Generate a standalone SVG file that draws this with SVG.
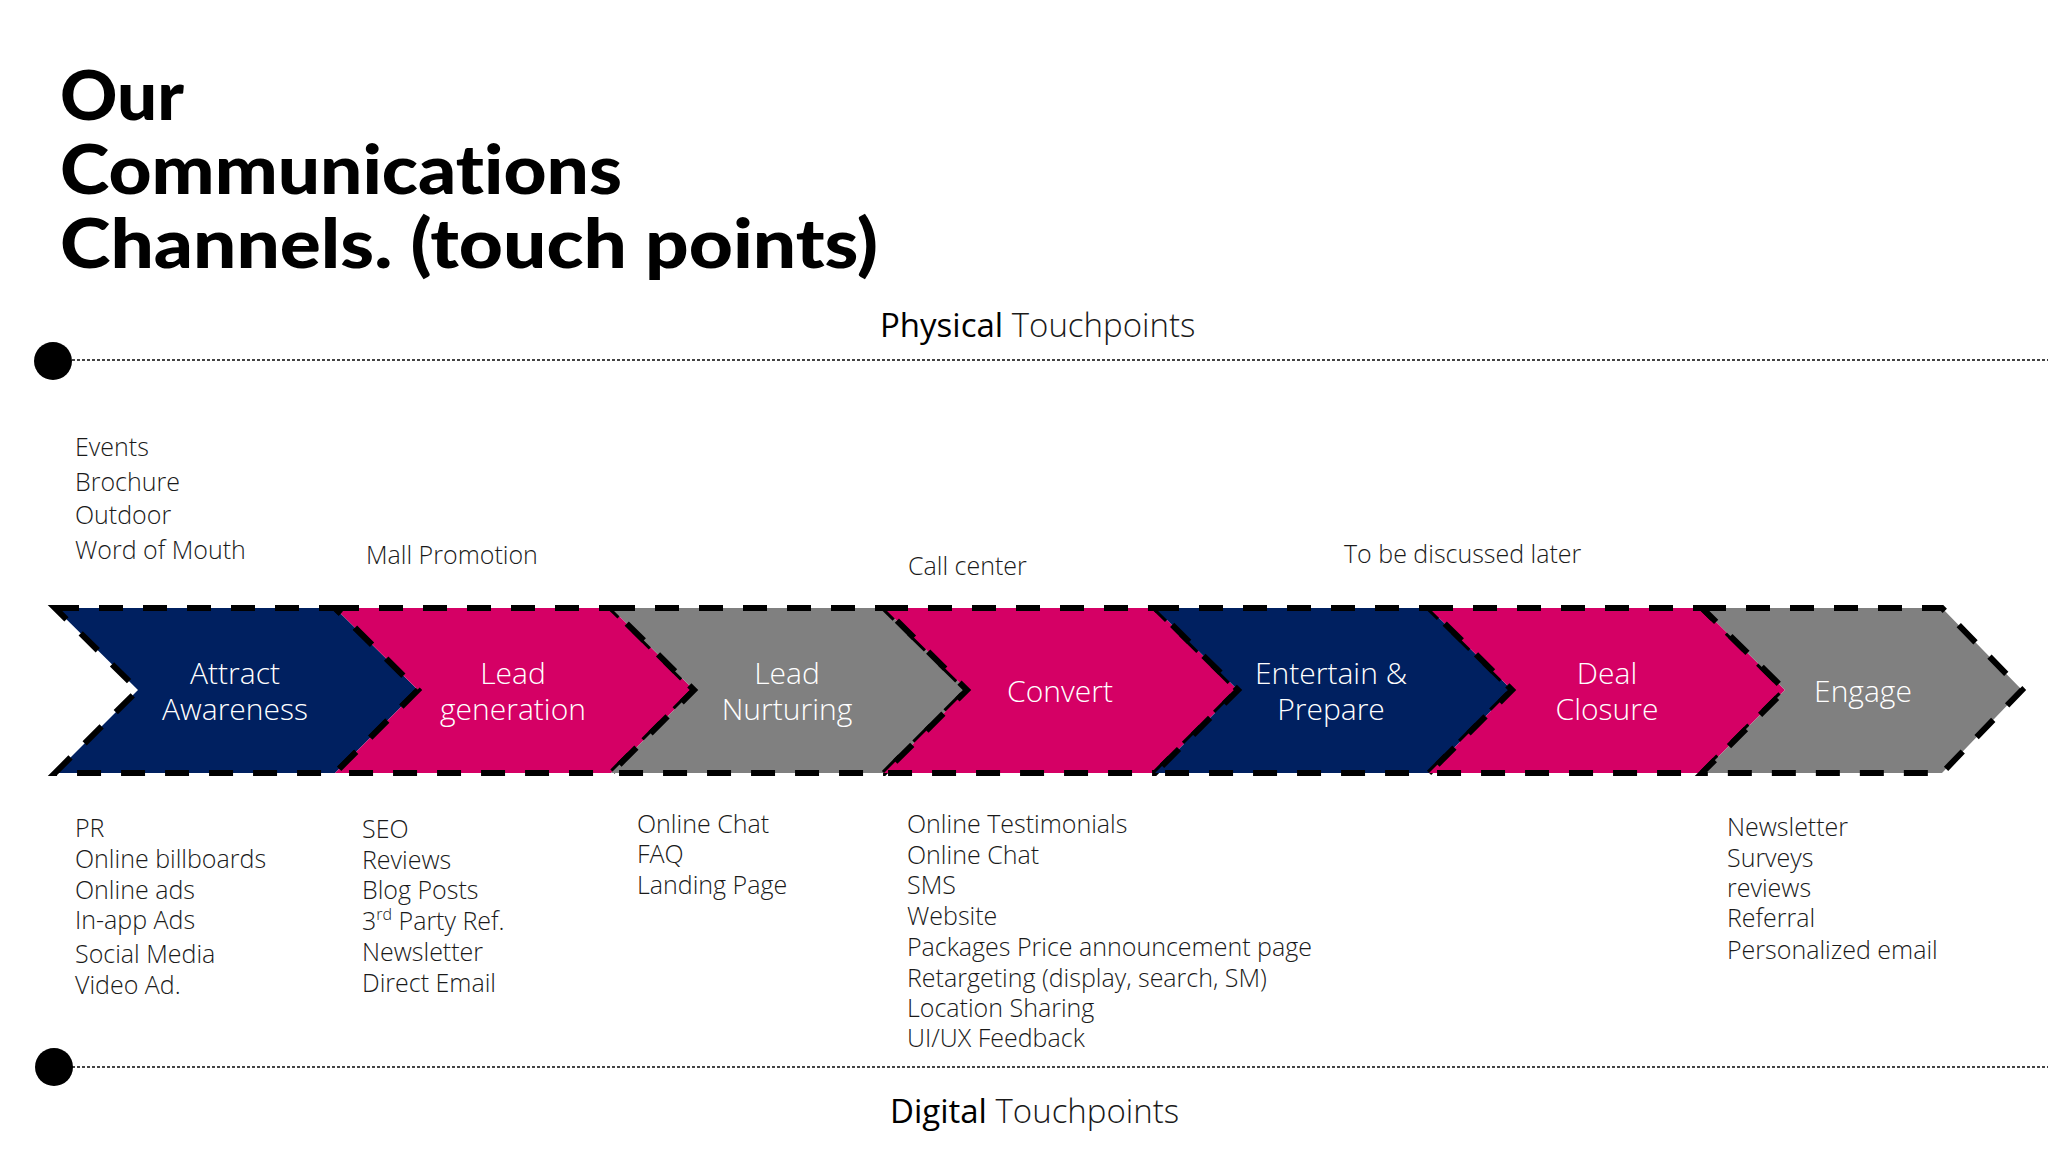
<svg xmlns="http://www.w3.org/2000/svg" width="2048" height="1152" viewBox="0 0 2048 1152">
<style>
.title{font-family:Lato,"Liberation Sans",sans-serif;font-weight:900;font-size:69px;fill:#000;font-variant-ligatures:none}
.lt{font-family:"Open Sans","Liberation Sans",sans-serif;font-weight:300;font-size:25px;fill:#1a1a1a}
.hd{font-family:"Open Sans","Liberation Sans",sans-serif;font-weight:300;font-size:33px;fill:#1a1a1a}
.hdb{font-weight:400;fill:#000}
.cl{font-family:"Open Sans","Liberation Sans",sans-serif;font-weight:300;font-size:30px;fill:#fff;text-anchor:middle}
.chev{stroke:#000;stroke-width:6;stroke-dasharray:24 20;stroke-linejoin:miter}
.dot{stroke:#444;stroke-width:2;stroke-dasharray:3 2;fill:none}
</style>
<rect width="2048" height="1152" fill="#fff"/>
<g id="title">
<text class="title" x="60" y="120" textLength="124" lengthAdjust="spacingAndGlyphs">Our</text>
<text class="title" x="60" y="194" textLength="562" lengthAdjust="spacingAndGlyphs">Communications</text>
<text class="title" x="60" y="268" textLength="818" lengthAdjust="spacingAndGlyphs">Channels. (touch points)</text>
</g>
<g id="connectors">
<line class="dot" x1="72" y1="360" x2="2048" y2="360"/>
<circle cx="53" cy="361" r="19" fill="#000"/>
<line class="dot" x1="72" y1="1067" x2="2048" y2="1067"/>
<circle cx="54" cy="1067" r="19" fill="#000"/>
</g>
<g id="physical-label"><text class="hd" x="880" y="337"><tspan class="hdb">Physical</tspan> Touchpoints</text></g>
<g id="digital-label"><text class="hd" x="890" y="1123"><tspan class="hdb">Digital</tspan> Touchpoints</text></g>
<g id="chev-attract">
<polygon class="chev" fill="#002060" points="55,608 335,608 418,690 335,773 55,773 138,690"/>
<text class="cl" y="684"><tspan x="235">Attract</tspan><tspan x="235" dy="36">Awareness</tspan></text>
</g>
<g id="chev-leadgen">
<polygon class="chev" fill="#D50065" points="335,608 611,608 694,690 611,773 335,773 418,690"/>
<text class="cl" y="684"><tspan x="513">Lead</tspan><tspan x="513" dy="36">generation</tspan></text>
</g>
<g id="chev-nurture">
<polygon class="chev" fill="#808080" points="611,608 884,608 967,690 884,773 611,773 694,690"/>
<text class="cl" y="684"><tspan x="787">Lead</tspan><tspan x="787" dy="36">Nurturing</tspan></text>
</g>
<g id="chev-convert">
<polygon class="chev" fill="#D50065" points="884,608 1155,608 1238,690 1155,773 884,773 967,690"/>
<text class="cl" x="1060" y="702">Convert</text>
</g>
<g id="chev-entertain">
<polygon class="chev" fill="#002060" points="1155,608 1429,608 1512,690 1429,773 1155,773 1238,690"/>
<text class="cl" y="684"><tspan x="1331">Entertain &amp;</tspan><tspan x="1331" dy="36">Prepare</tspan></text>
</g>
<g id="chev-deal">
<polygon class="chev" fill="#D50065" points="1429,608 1702,608 1785,690 1702,773 1429,773 1512,690"/>
<text class="cl" y="684"><tspan x="1607">Deal</tspan><tspan x="1607" dy="36">Closure</tspan></text>
</g>
<g id="chev-engage">
<polygon class="chev" fill="#808080" points="1702,608 1942,608 2022,690 1942,773 1702,773 1785,690"/>
<text class="cl" x="1863" y="702">Engage</text>
</g>
<g id="physical-attract">
<text class="lt"><tspan x="75" y="456">Events</tspan><tspan x="75" y="491">Brochure</tspan><tspan x="75" y="524">Outdoor</tspan><tspan x="75" y="559">Word of Mouth</tspan></text>
</g>
<g id="physical-leadgen"><text class="lt" x="366" y="564">Mall Promotion</text></g>
<g id="physical-convert"><text class="lt" x="908" y="575">Call center</text></g>
<g id="physical-deal"><text class="lt" x="1344" y="563">To be discussed later</text></g>
<g id="digital-attract">
<text class="lt"><tspan x="75" y="837">PR</tspan><tspan x="75" y="868">Online billboards</tspan><tspan x="75" y="899">Online ads</tspan><tspan x="75" y="929">In-app Ads</tspan><tspan x="75" y="963">Social Media</tspan><tspan x="75" y="994">Video Ad.</tspan></text>
</g>
<g id="digital-leadgen">
<text class="lt"><tspan x="362" y="838">SEO</tspan><tspan x="362" y="869">Reviews</tspan><tspan x="362" y="899">Blog Posts</tspan><tspan x="362" y="930">3</tspan><tspan font-size="16" dy="-10">rd</tspan><tspan dy="10"> Party Ref.</tspan><tspan x="362" y="961">Newsletter</tspan><tspan x="362" y="992">Direct Email</tspan></text>
</g>
<g id="digital-nurture">
<text class="lt"><tspan x="637" y="833">Online Chat</tspan><tspan x="637" y="863">FAQ</tspan><tspan x="637" y="894">Landing Page</tspan></text>
</g>
<g id="digital-convert">
<text class="lt"><tspan x="907" y="833">Online Testimonials</tspan><tspan x="907" y="864">Online Chat</tspan><tspan x="907" y="894">SMS</tspan><tspan x="907" y="925">Website</tspan><tspan x="907" y="956">Packages Price announcement page</tspan><tspan x="907" y="987">Retargeting (display, search, SM)</tspan><tspan x="907" y="1017">Location Sharing</tspan><tspan x="907" y="1047">UI/UX Feedback</tspan></text>
</g>
<g id="digital-engage">
<text class="lt"><tspan x="1727" y="836">Newsletter</tspan><tspan x="1727" y="867">Surveys</tspan><tspan x="1727" y="897">reviews</tspan><tspan x="1727" y="927">Referral</tspan><tspan x="1727" y="959">Personalized email</tspan></text>
</g>
</svg>
